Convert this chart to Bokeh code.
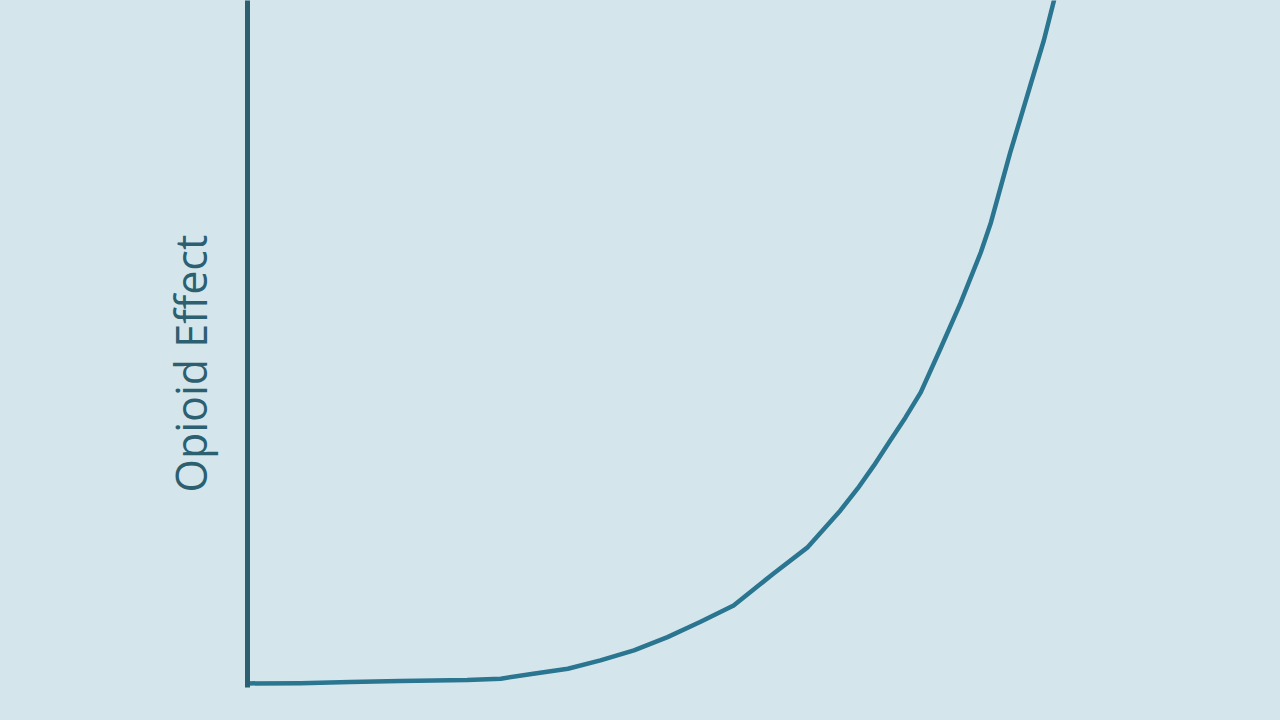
from bokeh.plotting import figure
from bokeh.models import Range1d, FixedTicker, Title
from bokeh.embed import file_html
from bokeh.resources import INLINE

# Dose (arbitrary units) vs. opioid effect (% of the visible scale)
dose = [0.00, 0.52, 1.01, 1.50, 2.16, 2.49, 2.81, 3.15, 3.47, 3.80, 4.13, 4.45, 4.78,
        5.17, 5.51, 5.83, 6.00, 6.16, 6.32, 6.47, 6.62, 6.81, 7.01, 7.21, 7.31, 7.50,
        7.70, 7.83, 7.93]
effect = [0.00, 0.03, 0.19, 0.34, 0.50, 0.69, 1.42, 2.15, 3.37, 4.83, 6.78, 8.98, 11.42,
          16.06, 19.96, 25.33, 28.55, 31.92, 35.58, 38.95, 42.61, 48.90, 55.64, 63.10, 67.50, 77.75,
          87.70, 94.14, 100.0]
y_label = "Opioid Effect"

BG = "#d5e5ec"
AXIS = "#2c5f70"
CURVE = "#2a7590"

p = figure(width=1264, height=704,
           x_range=Range1d(0, 10), y_range=Range1d(-0.6, 100),
           output_backend="svg", toolbar_location=None,
           min_border_left=247, min_border_bottom=17, min_border_top=0, min_border_right=0,
           background_fill_color=BG, border_fill_color=BG)
p.outline_line_color = None
p.grid.visible = False
p.xaxis.visible = False

ya = p.yaxis[0]
ya.ticker = FixedTicker(ticks=[])
ya.axis_line_color = AXIS
ya.axis_line_width = 5
ya.major_tick_line_color = None
ya.minor_tick_line_color = None
ya.major_label_text_font_size = "0px"

t = Title(text=y_label, align="left", offset=195, standoff=56,
          text_font="Open Sans", text_font_size="43px", text_font_style="normal",
          text_color=AXIS)
p.add_layout(t, "left")

p.line(dose, effect, line_width=4.5, line_color=CURVE, line_join="round", line_cap="round")

html = file_html(p, INLINE)
html = html.replace("</head>", "<style>html,body{background:%s;}</style></head>" % BG, 1)
open("out.html", "w").write(html)
